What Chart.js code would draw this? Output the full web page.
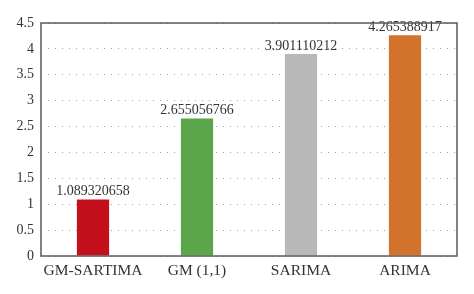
<!DOCTYPE html>
<html>
<head>
<meta charset="utf-8">
<script src="https://cdn.jsdelivr.net/npm/chart.js@4/dist/chart.umd.min.js"></script>
<style>
  html, body { margin: 0; padding: 0; background: #fff; }
  #wrap { width: 474px; height: 294px; }
</style>
</head>
<body>
<div id="wrap"><canvas id="chart"></canvas></div>
<script>
const categories = ["GM-SARTIMA", "GM (1,1)", "SARIMA", "ARIMA"];
const values = [1.089320658, 2.655056766, 3.901110212, 4.265388917];
const valueLabels = ["1.089320658", "2.655056766", "3.901110212", "4.265388917"];
const barColors = ["#c3101c", "#5ba64a", "#b8b8b8", "#d2732b"];

const FONT = "'Liberation Serif', 'DejaVu Serif', serif";

// box round the plot area
const frame = {
  id: "frame",
  afterDraw(chart) {
    const { ctx, chartArea: a } = chart;
    ctx.save();
    ctx.strokeStyle = "#5a5a5a";
    ctx.lineWidth = 1.5;
    ctx.strokeRect(a.left, a.top, a.right - a.left, a.bottom - a.top);
    ctx.restore();
  }
};

// numbers above the bars
const barLabels = {
  id: "barLabels",
  afterDatasetsDraw(chart) {
    const { ctx } = chart;
    const meta = chart.getDatasetMeta(0);
    ctx.save();
    ctx.font = "14px " + FONT;
    ctx.fillStyle = "#333";
    ctx.textAlign = "center";
    ctx.textBaseline = "bottom";
    meta.data.forEach((bar, i) => {
      ctx.fillText(valueLabels[i], bar.x, bar.y - 1);
    });
    ctx.restore();
  }
};

new Chart(document.getElementById("chart"), {
  type: "bar",
  data: {
    labels: categories,
    datasets: [{
      data: values,
      backgroundColor: barColors,
      barPercentage: 0.31,
      categoryPercentage: 1.0
    }]
  },
  options: {
    responsive: true,
    maintainAspectRatio: false,
    animation: false,
    layout: { padding: { left: 0, right: 17, top: 23, bottom: 0 } },
    plugins: {
      legend: { display: false },
      tooltip: { enabled: false }
    },
    scales: {
      x: {
        grid: { display: false, drawTicks: false },
        border: { display: false },
        ticks: {
          color: "#333",
          font: { family: FONT, size: 15.5 },
          padding: 6,
          maxRotation: 0,
          minRotation: 0,
          autoSkip: false
        },
        afterFit(scale) {
          scale.height = 38;
          scale.paddingLeft = 0;
          scale.paddingRight = 0;
        }
      },
      y: {
        min: 0,
        max: 4.5,
        ticks: {
          stepSize: 0.5,
          color: "#333",
          font: { family: FONT, size: 14 },
          padding: 7,
          callback: (v) => String(v)
        },
        grid: {
          color: "#a0a0a0",
          lineWidth: 1,
          drawTicks: false
        },
        border: { display: false, dash: [1, 6] },
        afterFit(scale) { scale.width = 41; }
      }
    }
  },
  plugins: [frame, barLabels]
});
</script>
</body>
</html>
